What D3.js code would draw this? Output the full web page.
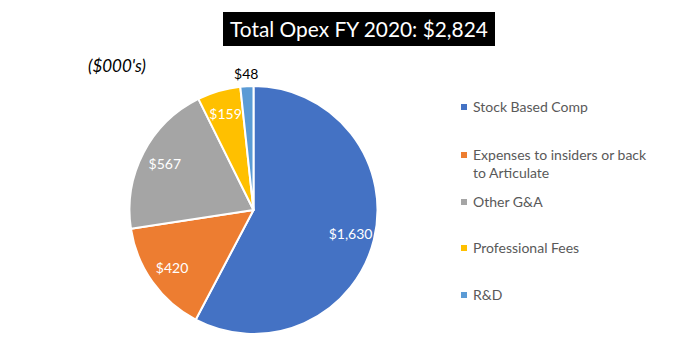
<!DOCTYPE html>
<html><head><meta charset="utf-8">
<script src="https://cdn.jsdelivr.net/npm/d3@7"></script>
<style>body{margin:0;background:#fff}svg{display:block}</style>
</head><body>
<script>
const categories = ["Stock Based Comp", "Expenses to insiders or back to Articulate", "Other G&A", "Professional Fees", "R&D"];
const values = [1630, 420, 567, 159, 48];
const valueLabels = ["$1,630", "$420", "$567", "$159", "$48"];
const colors = ["#4472C4", "#ED7D31", "#A5A5A5", "#FFC000", "#5B9BD5"];
const legendLines = [["Stock Based Comp"], ["Expenses to insiders or back", "to Articulate"], ["Other G&A"], ["Professional Fees"], ["R&D"]];
const titleText = "Total Opex FY 2020: $2,824";
const unitText = "($000's)";

const W = 692, H = 355;
const FONT = "Lato, 'Open Sans', sans-serif";
const svg = d3.select("body").append("svg").attr("width", W).attr("height", H);

// Title box
const tb = {x: 223, y: 12, w: 272, h: 34};
svg.append("rect").attr("x", tb.x).attr("y", tb.y).attr("width", tb.w).attr("height", tb.h).attr("fill", "#000");
const title = svg.append("text").attr("x", tb.x + tb.w / 2).attr("y", tb.y + tb.h / 2)
  .attr("text-anchor", "middle").attr("dy", "0.36em").attr("fill", "#fff")
  .style("font-family", FONT).style("font-size", "22px").text(titleText);
const tw = title.node().getComputedTextLength();
title.style("font-size", (22 * 258 / tw) + "px");

svg.append("text").attr("x", 88).attr("y", 66).attr("dy", "0.35em")
  .style("font-family", FONT).style("font-size", "17px").style("font-style", "italic")
  .attr("fill", "#000").text(unitText);

// Pie
const cx = 253.5, cy = 210, R = 124;
const pie = d3.pie().sort(null).value(d => d)(values);
const arc = d3.arc().innerRadius(0).outerRadius(R);
const g = svg.append("g").attr("transform", `translate(${cx},${cy})`);
g.selectAll("path").data(pie).join("path")
  .attr("d", arc).attr("fill", (d, i) => colors[i])
  .attr("stroke", "#fff").attr("stroke-width", 2).attr("stroke-linejoin", "round");

const inLabel = d3.arc().innerRadius(100).outerRadius(100);
const outLabel = d3.arc().innerRadius(136).outerRadius(136);
g.selectAll("text.lbl").data(pie).join("text").attr("class", "lbl")
  .attr("transform", (d, i) => {
    const c = (i === 4 ? outLabel : inLabel).centroid(d);
    return `translate(${c[0]},${c[1]})`;
  })
  .attr("text-anchor", "middle").attr("dy", "0.35em")
  .attr("fill", (d, i) => i === 4 ? "#000" : "#fff")
  .style("font-family", FONT).style("font-size", "14px")
  .text((d, i) => valueLabels[i]);

// Legend
const legendY = [107, 155, 202, 248, 295];
const lg = svg.append("g");
categories.forEach((c, i) => {
  lg.append("rect").attr("x", 461).attr("y", legendY[i] - 3).attr("width", 6).attr("height", 6).attr("fill", colors[i]);
  legendLines[i].forEach((t, j) => {
    lg.append("text").attr("x", 473).attr("y", legendY[i] + j * 18).attr("dy", "0.35em")
      .attr("fill", "#595959").style("font-family", FONT).style("font-size", "14px").text(t);
  });
});
</script>
</body></html>
